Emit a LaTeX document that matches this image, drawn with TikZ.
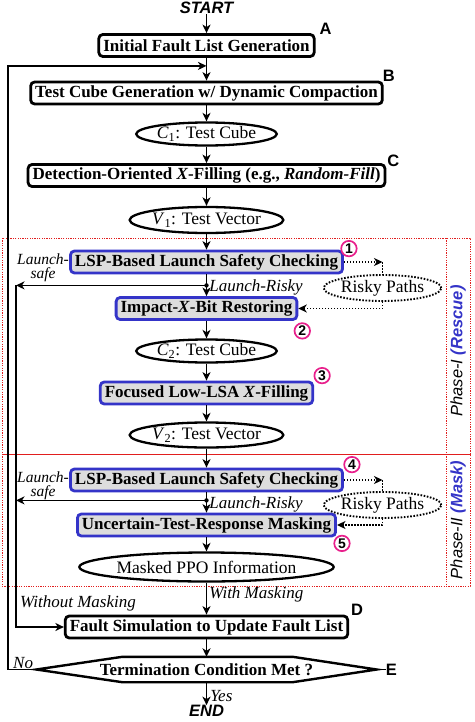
\documentclass[tikz,border=0pt]{standalone}
\usepackage{fontspec}
\setmainfont{Liberation Serif}
\setsansfont{Liberation Sans}
\usetikzlibrary{positioning, shapes.geometric, arrows.meta}

\definecolor{boxblue}{RGB}{52,52,200}
\definecolor{boxgray}{RGB}{221,221,221}
\definecolor{circpink}{RGB}{232,32,140}
\definecolor{framered}{RGB}{225,30,30}

\tikzset{
  stepblk/.style={draw, line width=2.8pt, rounded corners=4pt, fill=white, minimum height=22pt,
    inner xsep=4.5pt, inner ysep=0pt, font=\fontsize{17}{18}\selectfont\bfseries},
  stepblue/.style={stepblk, draw=boxblue, fill=boxgray},
  data/.style={ellipse, draw, line width=2.3pt, inner sep=0pt, font=\fontsize{17.5}{18}\selectfont},
  risky/.style={data, line width=1.9pt, dash pattern=on 1.6pt off 1.6pt},
  num/.style={circle, draw=circpink, line width=1.7pt, fill=white, inner sep=0pt, minimum size=15.5pt,
    font=\sffamily\bfseries\fontsize{14}{14}\selectfont},
  tag/.style={font=\sffamily\bfseries\fontsize{16.5}{16}\selectfont, inner sep=0pt},
  lbl/.style={font=\itshape\fontsize{17}{14}\selectfont, inner sep=0pt},
  safelbl/.style={lbl, font=\itshape\fontsize{15.5}{14}\selectfont},
  flow/.style={->, line width=1.6pt},
  dotline/.style={line width=1.6pt, dash pattern=on 1.5pt off 1.5pt},
  hint/.style={dotline, ->},
  phasebox/.style={framered, line width=1pt, dash pattern=on 1.2pt off 1.2pt},
  phaselbl/.style={rotate=90, inner sep=0pt, font=\sffamily\itshape\fontsize{16.5}{17}\selectfont},
}

\begin{document}
\begin{tikzpicture}[x=1pt, y=1pt, node distance=42pt, on grid,
    >={Stealth[length=8.5pt,width=8pt,inset=2.5pt]}]
  \useasboundingbox (0,0) rectangle (474,-722);

  % phase frames
  \draw[phasebox] (2,-238) rectangle (470,-454);
  \draw[phasebox] (2,-454) rectangle (470,-586);
  \draw[phasebox] (446,-238) -- (446,-586);
  \node[phaselbl] (ph1) at (458,-351) {Phase-I \textcolor{boxblue}{\bfseries(Rescue)}};
  \node[phaselbl] (ph2) at (458,-520) {Phase-II \textcolor{boxblue}{\bfseries(Mask)}};

  % main flow
  \node[tag, font=\sffamily\bfseries\itshape\fontsize{16.5}{17}\selectfont] (start) at (206.5,-8) {START};
  \node[stepblk] (A) [below=37.5pt of start] {Initial Fault List Generation};
  \node[stepblk] (B) [below=47.5pt of A] {Test Cube Generation w/ Dynamic Compaction};
  \node[data, minimum width=112pt, minimum height=23pt] (C1) [below=41pt of B] {\textit{C}\textsubscript{1}: Test Cube};
  \node[stepblk] (C) [below=41.5pt of C1] {Detection-Oriented \textit{X}-Filling (e.g., \textit{Random-Fill})};
  \node[data, minimum width=122pt, minimum height=26pt] (V1) [below=44.5pt of C] {\textit{V}\textsubscript{1}: Test Vector};
  \node[stepblue] (L1) [below=42pt of V1] {LSP-Based Launch Safety Checking};
  \node[stepblue] (R2) [below=46.5pt of L1] {Impact-\textit{X}-Bit Restoring};
  \node[data, minimum width=112pt, minimum height=23pt] (C2) [below=42.5pt of R2] {\textit{C}\textsubscript{2}: Test Cube};
  \node[stepblue] (F3) [below=42pt of C2] {Focused Low-LSA \textit{X}-Filling};
  \node[data, minimum width=122pt, minimum height=25pt] (V2) [below=42pt of F3] {\textit{V}\textsubscript{2}: Test Vector};
  \node[stepblue] (L4) [below=45pt of V2] {LSP-Based Launch Safety Checking};
  \node[stepblue] (M5) [below=45pt of L4] {Uncertain-Test-Response Masking};
  \node[data, minimum width=226pt, minimum height=29pt] (PPO) [below=42pt of M5] {Masked PPO Information};
  \node[stepblk] (D) [below=60pt of PPO] {Fault Simulation to Update Fault List};
  \node[minimum width=340pt, minimum height=25pt, inner sep=0pt,
    font=\fontsize{17}{18}\selectfont\bfseries] (term) [below=42.5pt of D] {Termination Condition Met ?};
  \node[tag, font=\sffamily\bfseries\itshape\fontsize{16.5}{17}\selectfont] (end) [below=41.5pt of term] {END};
  \draw[line width=2.4pt] (term.west) -- ([xshift=86pt]term.north west) -- ([xshift=-84pt]term.north east)
    -- (term.east) -- ([xshift=-84pt]term.south east) -- ([xshift=86pt]term.south west) -- cycle;

  % risky paths
  \node[risky, minimum width=113pt, minimum height=26pt] (RP1) [below right=26pt and 176pt of L1] {Risky Paths};
  \node[risky, minimum width=113pt, minimum height=26pt] (RP2) [below right=25pt and 176pt of L4] {Risky Paths};

  % step numbers and letters
  \node[num] (n1) at ([shift={(5pt,1pt)}]L1.north east) {1};
  \node[num] (n2) at ([shift={(4pt,-10pt)}]R2.south east) {2};
  \node[num] (n3) at ([shift={(8pt,5pt)}]F3.north east) {3};
  \node[num] (n4) at ([shift={(8pt,3pt)}]L4.north east) {4};
  \node[num] (n5) at ([shift={(5pt,-6pt)}]M5.south east) {5};
  \node[tag] (lA) at ([shift={(10pt,4pt)}]A.north east) {A};
  \node[tag] (lB) at ([shift={(5pt,5pt)}]B.north east) {B};
  \node[tag] (lC) at ([shift={(7pt,2pt)}]C.north east) {C};
  \node[tag] (lD) at ([shift={(8pt,5pt)}]D.north east) {D};
  \node[tag, anchor=west] (lE) [right=9pt of term.east] {E};

  \path[flow]
    (start) edge (A)
    (A) edge (B)
    (B) edge (C1)
    (C1) edge (C)
    (C) edge (V1)
    (V1) edge (L1)
    (L1) edge node[lbl, anchor=west, xshift=2pt, yshift=-2pt] {Launch-Risky} (R2)
    (R2) edge (C2)
    (C2) edge (F3)
    (F3) edge (V2)
    (V2) edge (L4)
    (L4) edge node[lbl, anchor=west, xshift=2pt, yshift=-2pt] {Launch-Risky} (M5)
    (M5) edge (PPO)
    (PPO) edge node[lbl, anchor=west, xshift=2pt, yshift=4pt] {With Masking} (D)
    (D) edge (term)
    (term) edge node[lbl, anchor=west, xshift=3pt, yshift=-2pt] {Yes} (end);
  \draw[line width=1.6pt] (term.east) -- (lE);

  % launch-safe branches
  \coordinate[below=11pt of L1.south] (j1);
  \coordinate[below=8pt of L4.south] (j2);
  \coordinate (ls) at (16,0);
  \coordinate (d0) at (D.west -| ls);
  \draw[flow] (j1) -- (j1 -| ls);
  \draw[flow] (j1 -| ls) |- (D.west);
  \draw[flow] (j2) -- (j2 -| ls);
  \fill (j1) circle (2.2pt) (j2) circle (2.2pt);
  \node[safelbl, anchor=base east] (safe1a) at ([yshift=-2pt]L1.west) {Launch-};
  \node[safelbl, anchor=base] (safe1b) at ([yshift=-14.5pt]safe1a.base) {safe};
  \node[safelbl, anchor=base east] (safe2a) at ([yshift=-2pt]L4.west) {Launch-};
  \node[safelbl, anchor=base] (safe2b) at ([yshift=-14.5pt]safe2a.base) {safe};
  \node[lbl, anchor=west] (wo) at ([shift={(4pt,24pt)}]d0) {Without Masking};

  % loop back
  \coordinate[below=8pt of A.south] (j0);
  \coordinate (lp) at (8,0);
  \coordinate (t0) at (term.west -| lp);
  \draw[flow] (term.west) -- (t0) |- (j0);
  \node[lbl, anchor=south west] (no) at ([shift={(5pt,1pt)}]t0) {No};

  % risky path hints
  \coordinate (r1) at (RP1 |- L1);
  \coordinate (r4) at (RP2 |- L4);
  \draw[hint] (L1) -- (r1);
  \draw[dotline] (r1) -- (RP1);
  \draw[hint] (RP1) |- (R2);
  \draw[hint] (L4) -- (r4);
  \draw[dotline] (r4) -- (RP2);
  \draw[hint] (RP2) |- (M5);
\end{tikzpicture}
\end{document}
